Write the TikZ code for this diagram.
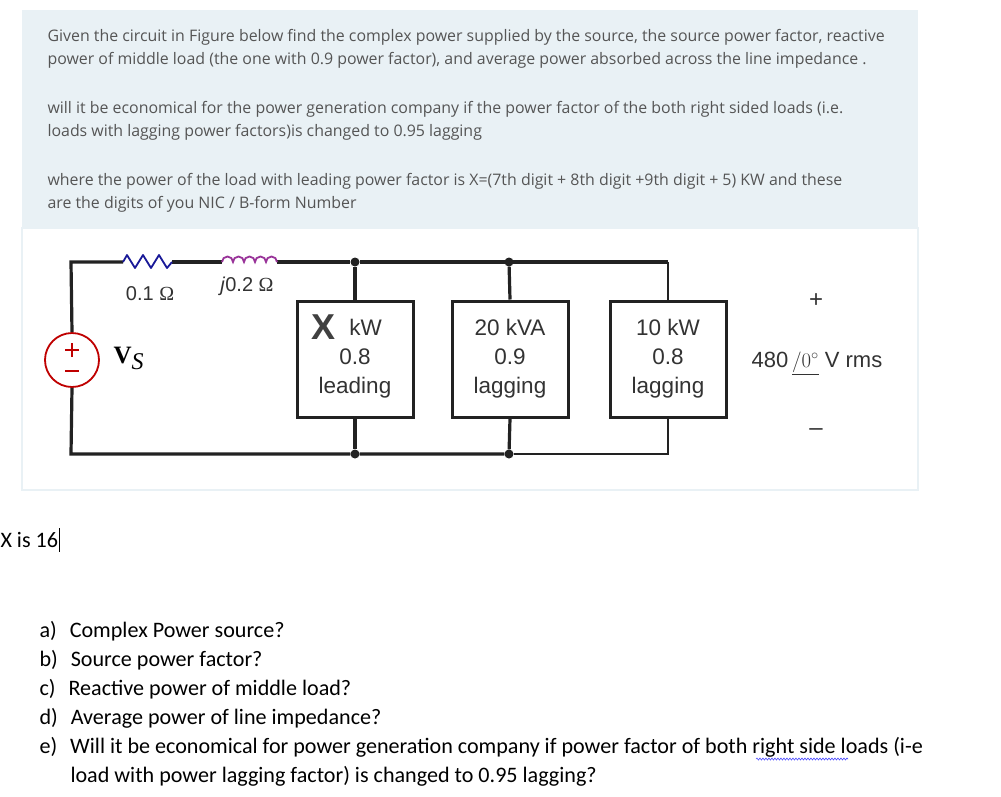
\documentclass[tikz,border=0pt]{standalone}
\usepackage{fontspec}
\setmainfont{Liberation Sans}
\newfontfamily\segfont{Open Sans}
\newfontfamily\calfont{Carlito}
\newfontfamily\serfont{Liberation Serif}
\usetikzlibrary{decorations.pathmorphing}
\definecolor{panel}{HTML}{E9F1F5}
\definecolor{txt}{HTML}{555555}
\definecolor{wirec}{HTML}{222222}
\begin{document}
\begin{tikzpicture}[x=1pt,y=-1pt,
  wire/.style={line width=3.2pt,draw=wirec},
  thin/.style={line width=2.2pt,draw=wirec},
  load/.style={draw=wirec,line width=3pt,fill=white,minimum width=116pt,minimum height=116pt,align=center,font=\fontsize{22.5}{29}\selectfont,text=black!80},
  dot/.style={circle,fill=wirec,inner sep=0pt,minimum size=9pt},
  q/.style={anchor=west,font=\calfont\fontsize{22.1}{24}\selectfont},
  para/.style={anchor=west,font=\segfont\fontsize{15.9}{18}\selectfont,text=txt}]
\useasboundingbox (0,0) rectangle (1001,796);
\fill[white] (0,0) rectangle (1001,796);
\fill[panel] (22,10) rectangle (918,228);
\draw[panel,line width=2pt] (22,228) rectangle (918,490);
\node[para] (t1) at (44,37) {Given the circuit in Figure below find the complex power supplied by the source, the source power factor, reactive};
\node[para] (t2) at (44,60) {power of middle load (the one with 0.9 power factor), and average power absorbed across the line impedance .};
\node[para] (t3) at (44,109) {will it be economical for the power generation company if the power factor of the both right sided loads (i.e.};
\node[para] (t4) at (44,132) {loads with lagging power factors)is changed to 0.95 lagging};
\node[para] (t5) at (44,181) {where the power of the load with leading power factor is X=(7th digit + 8th digit +9th digit + 5) KW and these};
\node[para] (t6) at (44,204) {are the digits of you NIC / B-form Number};
% circuit
\coordinate (tl) at (71,262); \coordinate (bl) at (71,454);
\coordinate (r1) at (123,262); \coordinate (r2) at (172,262);
\coordinate (l1) at (222,262); \coordinate (l2) at (277,262);
\node[dot] (j1) at (355,262) {}; \node[dot] (j2) at (509,262) {};
\node[dot] (k1) at (355,454) {}; \node[dot] (k2) at (509,454) {};
\coordinate (j3) at (668,262); \coordinate (k3) at (668,454);
\node[load] (b1) at (355,359) {\phantom{X}\hspace{6pt}kW\\0.8\\leading};
\node[font=\fontsize{36}{36}\selectfont\bfseries,text=black!75] (xx) at (324,327) {X};
\node[load] (b2) at (510,359) {20 kVA\\0.9\\lagging};
\node[load] (b3) at (668,359) {10 kW\\0.8\\lagging};
\node[circle,draw=red!75!black,line width=1.8pt,fill=white,minimum size=54pt,inner sep=0pt] (vs) at (72,360) {};
\draw[wire] (vs.north) -- (tl) -- (r1);
\draw[wire] (r2) -- (l1);
\draw[wire] (l2) -- (j1) -- (j3);
\draw[wire] (vs.south) -- (bl) -- (k1) -- (k2);
\draw[thin] (k2) -- (k3) -- (b3.south);
\draw[thin] (j3) -- (b3.north);
\draw[wire] (j1) -- (b1.north); \draw[wire] (k1) -- (b1.south);
\draw[wire] (j2) -- (b2.north); \draw[wire] (k2) -- (b2.south);
\draw[blue!55!black!90,line width=1.8pt,line join=round] (r1) -- (127,255) -- (135,268) -- (143,255) -- (151,268) -- (159,255) -- (167,268) -- (r2);
\draw[violet!80,line width=1.8pt] (l1) \foreach \i in {1,...,5} {arc[start angle=180,end angle=360,radius=5.5]};
\draw[red!75!black,line width=1.2pt] (65,350) -- (79,350) (72,343) -- (72,357) (65,371) -- (79,371);
\node[font=\serfont\bfseries\fontsize{25}{25}\selectfont,anchor=west] (vl) at (110,358) {V\raisebox{-6pt}{\mdseries\itshape\fontsize{24}{24}\selectfont S}};
\node[font=\fontsize{20}{20}\selectfont,text=black!80] (lr) at (150,294) {0.1 {\serfont Ω}};
\node[font=\fontsize{20}{20}\selectfont,text=black!80] (ll) at (247,286) {\textit{j}0.2 {\serfont Ω}};
\node[font=\fontsize{24}{24}\selectfont,text=black!80] (pl) at (816,301) {+};
\node[font=\fontsize{22}{22}\selectfont,text=black!80] (vv) at (817,363) {480\,$\underline{/0^\circ}$ V rms};
\node[font=\fontsize{24}{24}\selectfont,text=black!80] (mi) at (816,432) {--};
% bottom text
\node[q,anchor=west] (xi) at (-3,540) {X is 16};
\draw[line width=0.8pt] (59,528) -- (59,552);
\node[q] (a) at (36,631) {a)\hspace{13pt}Complex Power source?};
\node[q] (b) at (36,660) {b)\hspace{13pt}Source power factor?};
\node[q] (c) at (36,689) {c)\hspace{13pt}Reactive power of middle load?};
\node[q] (d) at (36,718) {d)\hspace{13pt}Average power of line impedance?};
\node[q] (e) at (36,747) {e)\hspace{13pt}Will it be economical for power generation company if power factor of both right side loads (i-e};
\node[q] (f) at (67,776) {load with power lagging factor) is changed to 0.95 lagging?};
\draw[blue!70,line width=0.6pt,decorate,decoration={snake,amplitude=1pt,segment length=3pt}] (756,759) -- (848,759);
\end{tikzpicture}
\end{document}
